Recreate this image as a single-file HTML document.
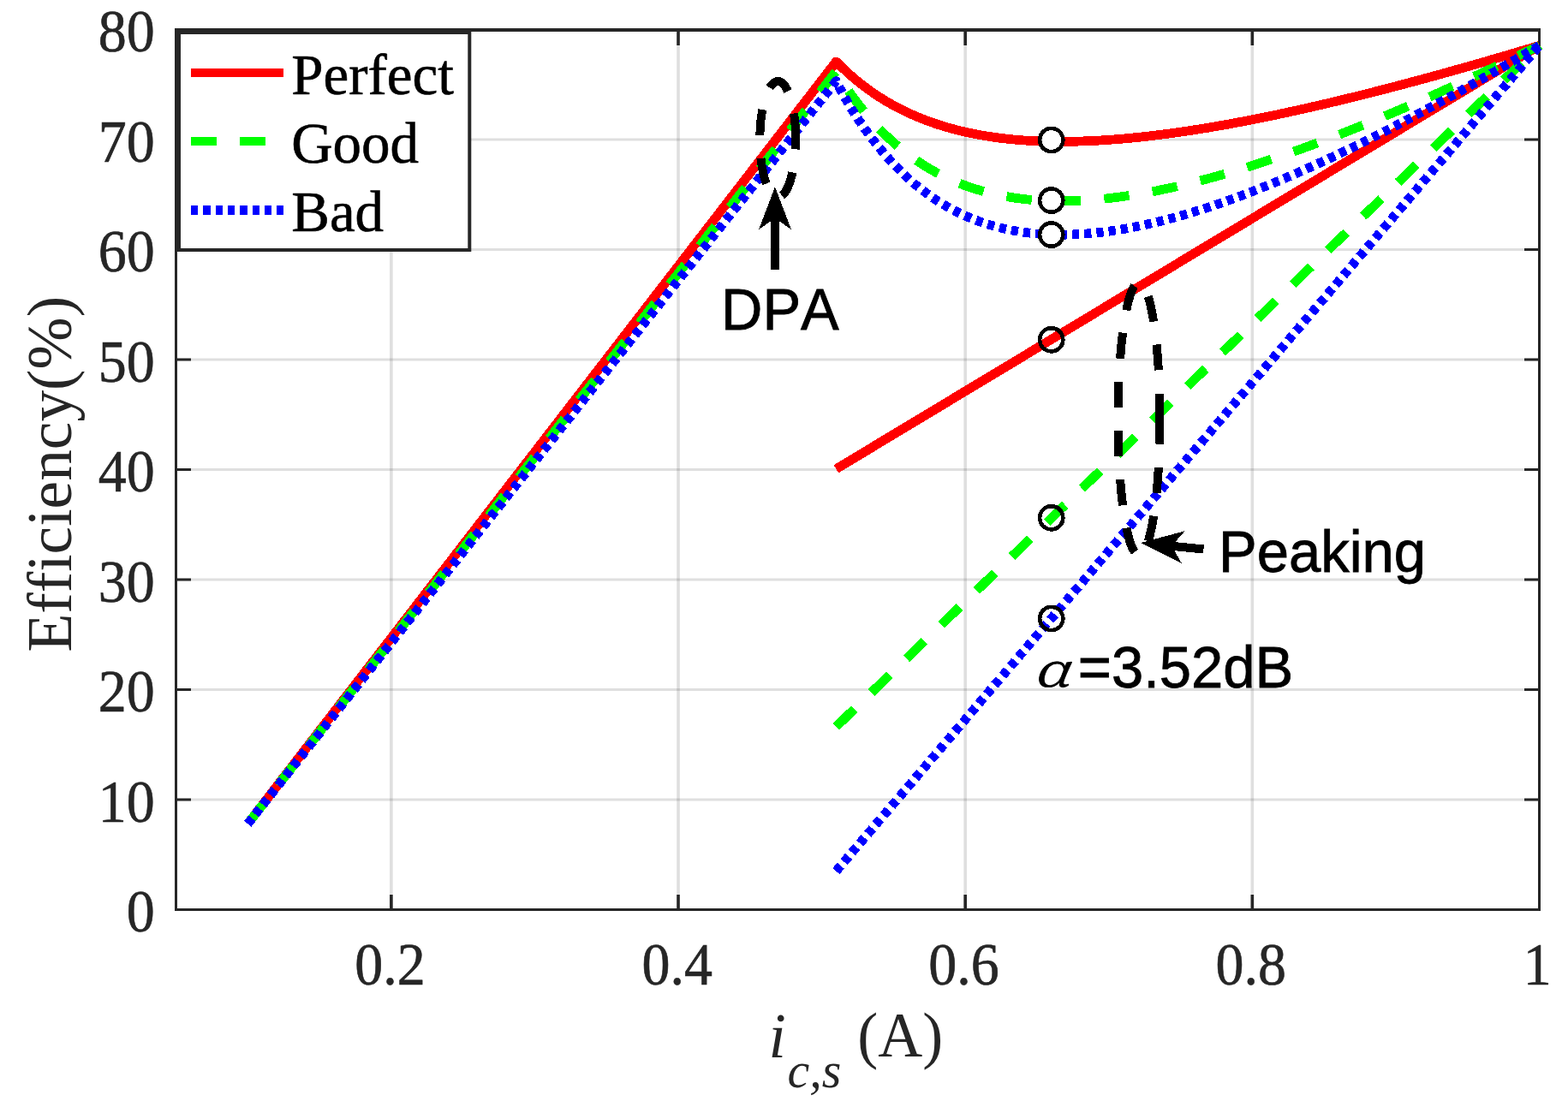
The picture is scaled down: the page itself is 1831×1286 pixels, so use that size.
<!DOCTYPE html><html><head><meta charset="utf-8"><style>html,body{margin:0;padding:0;background:#fff;}svg{display:block}text{font-kerning:none}</style></head><body>
<svg width="1831" height="1286" viewBox="0 0 1831 1286">
<rect width="1831" height="1286" fill="#fff"/>
<g stroke="#262626" stroke-opacity="0.15" fill="none">
<line x1="456.87" y1="34.50" x2="456.87" y2="1062.50" stroke-width="3.6"/>
<line x1="792.03" y1="34.50" x2="792.03" y2="1062.50" stroke-width="3.6"/>
<line x1="1127.18" y1="34.50" x2="1127.18" y2="1062.50" stroke-width="3.6"/>
<line x1="1462.34" y1="34.50" x2="1462.34" y2="1062.50" stroke-width="3.6"/>
<line x1="205.50" y1="934.00" x2="1797.50" y2="934.00" stroke-width="3"/>
<line x1="205.50" y1="805.50" x2="1797.50" y2="805.50" stroke-width="3"/>
<line x1="205.50" y1="677.00" x2="1797.50" y2="677.00" stroke-width="3"/>
<line x1="205.50" y1="548.50" x2="1797.50" y2="548.50" stroke-width="3"/>
<line x1="205.50" y1="420.00" x2="1797.50" y2="420.00" stroke-width="3"/>
<line x1="205.50" y1="291.50" x2="1797.50" y2="291.50" stroke-width="3"/>
<line x1="205.50" y1="163.00" x2="1797.50" y2="163.00" stroke-width="3"/>
</g>
<g stroke="#262626" fill="none">
<line x1="204" y1="35" x2="1799" y2="35" stroke-width="4"/>
<line x1="204" y1="1062.5" x2="1799" y2="1062.5" stroke-width="3"/>
<line x1="205.5" y1="33" x2="205.5" y2="1064" stroke-width="3"/>
<line x1="1797.5" y1="33" x2="1797.5" y2="1064" stroke-width="3"/>
<line x1="456.87" y1="1061" x2="456.87" y2="1045" stroke-width="3.6"/>
<line x1="456.87" y1="37" x2="456.87" y2="53" stroke-width="3.6"/>
<line x1="792.03" y1="1061" x2="792.03" y2="1045" stroke-width="3.6"/>
<line x1="792.03" y1="37" x2="792.03" y2="53" stroke-width="3.6"/>
<line x1="1127.18" y1="1061" x2="1127.18" y2="1045" stroke-width="3.6"/>
<line x1="1127.18" y1="37" x2="1127.18" y2="53" stroke-width="3.6"/>
<line x1="1462.34" y1="1061" x2="1462.34" y2="1045" stroke-width="3.6"/>
<line x1="1462.34" y1="37" x2="1462.34" y2="53" stroke-width="3.6"/>
<line x1="207" y1="934.00" x2="223" y2="934.00" stroke-width="3"/>
<line x1="1796" y1="934.00" x2="1780" y2="934.00" stroke-width="3"/>
<line x1="207" y1="805.50" x2="223" y2="805.50" stroke-width="3"/>
<line x1="1796" y1="805.50" x2="1780" y2="805.50" stroke-width="3"/>
<line x1="207" y1="677.00" x2="223" y2="677.00" stroke-width="3"/>
<line x1="1796" y1="677.00" x2="1780" y2="677.00" stroke-width="3"/>
<line x1="207" y1="548.50" x2="223" y2="548.50" stroke-width="3"/>
<line x1="1796" y1="548.50" x2="1780" y2="548.50" stroke-width="3"/>
<line x1="207" y1="420.00" x2="223" y2="420.00" stroke-width="3"/>
<line x1="1796" y1="420.00" x2="1780" y2="420.00" stroke-width="3"/>
<line x1="207" y1="291.50" x2="223" y2="291.50" stroke-width="3"/>
<line x1="1796" y1="291.50" x2="1780" y2="291.50" stroke-width="3"/>
<line x1="207" y1="163.00" x2="223" y2="163.00" stroke-width="3"/>
<line x1="1796" y1="163.00" x2="1780" y2="163.00" stroke-width="3"/>
</g>
<g font-family="Liberation Serif, serif" font-size="66" fill="#262626" stroke="#262626" stroke-width="0.6">
<text text-anchor="end" transform="translate(180.7,1088.00) scale(1,1.053)">0</text>
<text text-anchor="end" transform="translate(180.7,959.50) scale(1,1.053)">10</text>
<text text-anchor="end" transform="translate(180.7,831.00) scale(1,1.053)">20</text>
<text text-anchor="end" transform="translate(180.7,702.50) scale(1,1.053)">30</text>
<text text-anchor="end" transform="translate(180.7,574.00) scale(1,1.053)">40</text>
<text text-anchor="end" transform="translate(180.7,445.50) scale(1,1.053)">50</text>
<text text-anchor="end" transform="translate(180.7,317.00) scale(1,1.053)">60</text>
<text text-anchor="end" transform="translate(180.7,188.50) scale(1,1.053)">70</text>
<text text-anchor="end" transform="translate(180.7,60.00) scale(1,1.053)">80</text>
<text text-anchor="middle" transform="translate(455.57,1150.2) scale(1,1.053)">0.2</text>
<text text-anchor="middle" transform="translate(790.73,1150.2) scale(1,1.053)">0.4</text>
<text text-anchor="middle" transform="translate(1125.58,1150.2) scale(1,1.053)">0.6</text>
<text text-anchor="middle" transform="translate(1460.74,1150.2) scale(1,1.053)">0.8</text>
<text text-anchor="middle" transform="translate(1795.30,1150.2) scale(1,1.053)">1</text>
</g>
<g font-family="Liberation Serif, serif" fill="#262626">
<text font-size="73.4" transform="translate(82.6,761.5) rotate(-90)">Efficiency(%)</text>
<text font-size="73" font-style="italic" transform="translate(897.6,1234.9) scale(1,1.02)">i</text>
<text font-size="58" font-style="italic" transform="translate(919.6,1270.3) scale(1,1.02)">c,s</text>
<text font-size="72" transform="translate(1001.3,1234.2) scale(1,1.02)">(A)</text>
</g>
<g fill="none" stroke-width="10.8" stroke-linejoin="round" stroke-linecap="butt" shape-rendering="crispEdges">
<path d="M289.29,962.27 L976.36,71.92 L984.74,80.21 L993.12,87.87 L1001.50,94.95 L1009.88,101.50 L1018.26,107.56 L1026.64,113.17 L1035.02,118.35 L1043.39,123.13 L1051.77,127.55 L1060.15,131.63 L1068.53,135.38 L1076.91,138.84 L1085.29,142.01 L1093.67,144.91 L1102.05,147.57 L1110.43,149.99 L1118.81,152.19 L1127.18,154.19 L1135.56,155.98 L1143.94,157.59 L1152.32,159.02 L1160.70,160.29 L1169.08,161.40 L1177.46,162.35 L1185.84,163.16 L1194.22,163.84 L1202.59,164.39 L1210.97,164.81 L1219.35,165.12 L1227.73,165.31 L1236.11,165.40 L1244.49,165.38 L1252.87,165.26 L1261.25,165.06 L1269.63,164.76 L1278.01,164.37 L1286.38,163.91 L1294.76,163.36 L1303.14,162.74 L1311.52,162.05 L1319.90,161.28 L1328.28,160.45 L1336.66,159.56 L1345.04,158.60 L1353.42,157.58 L1361.79,156.50 L1370.17,155.37 L1378.55,154.19 L1386.93,152.95 L1395.31,151.66 L1403.69,150.33 L1412.07,148.95 L1420.45,147.52 L1428.83,146.05 L1437.21,144.54 L1445.58,142.99 L1453.96,141.40 L1462.34,139.77 L1470.72,138.10 L1479.10,136.40 L1487.48,134.67 L1495.86,132.90 L1504.24,131.09 L1512.62,129.26 L1520.99,127.40 L1529.37,125.50 L1537.75,123.58 L1546.13,121.63 L1554.51,119.65 L1562.89,117.65 L1571.27,115.62 L1579.65,113.57 L1588.03,111.49 L1596.41,109.39 L1604.78,107.26 L1613.16,105.12 L1621.54,102.95 L1629.92,100.76 L1638.30,98.55 L1646.68,96.32 L1655.06,94.07 L1663.44,91.80 L1671.82,89.51 L1680.19,87.21 L1688.57,84.88 L1696.95,82.54 L1705.33,80.19 L1713.71,77.81 L1722.09,75.42 L1730.47,73.02 L1738.85,70.60 L1747.23,68.16 L1755.61,65.71 L1763.98,63.25 L1772.36,60.77 L1780.74,58.28 L1789.12,55.78 L1797.50,53.26 L1797.50,53.26" stroke="#ff0000"/>
<path d="M976.36,547.79 L1797.50,53.26" stroke="#ff0000"/>
<path d="M289.29,962.27 L976.36,83.49 L984.74,96.91 L993.12,109.32 L1001.50,120.79 L1009.88,131.41 L1018.26,141.23 L1026.64,150.31 L1035.02,158.70 L1043.39,166.45 L1051.77,173.61 L1060.15,180.21 L1068.53,186.30 L1076.91,191.89 L1085.29,197.03 L1093.67,201.74 L1102.05,206.04 L1110.43,209.97 L1118.81,213.53 L1127.18,216.76 L1135.56,219.67 L1143.94,222.28 L1152.32,224.60 L1160.70,226.65 L1169.08,228.44 L1177.46,229.99 L1185.84,231.30 L1194.22,232.40 L1202.59,233.28 L1210.97,233.97 L1219.35,234.46 L1227.73,234.78 L1236.11,234.92 L1244.49,234.89 L1252.87,234.70 L1261.25,234.37 L1269.63,233.88 L1278.01,233.26 L1286.38,232.51 L1294.76,231.62 L1303.14,230.62 L1311.52,229.49 L1319.90,228.25 L1328.28,226.91 L1336.66,225.46 L1345.04,223.90 L1353.42,222.25 L1361.79,220.51 L1370.17,218.68 L1378.55,216.76 L1386.93,214.76 L1395.31,212.67 L1403.69,210.51 L1412.07,208.27 L1420.45,205.96 L1428.83,203.58 L1437.21,201.13 L1445.58,198.62 L1453.96,196.04 L1462.34,193.40 L1470.72,190.70 L1479.10,187.95 L1487.48,185.14 L1495.86,182.27 L1504.24,179.35 L1512.62,176.38 L1520.99,173.36 L1529.37,170.29 L1537.75,167.18 L1546.13,164.02 L1554.51,160.82 L1562.89,157.57 L1571.27,154.28 L1579.65,150.95 L1588.03,147.59 L1596.41,144.18 L1604.78,140.74 L1613.16,137.26 L1621.54,133.75 L1629.92,130.20 L1638.30,126.62 L1646.68,123.01 L1655.06,119.36 L1663.44,115.69 L1671.82,111.98 L1680.19,108.25 L1688.57,104.49 L1696.95,100.70 L1705.33,96.88 L1713.71,93.03 L1722.09,89.16 L1730.47,85.27 L1738.85,81.35 L1747.23,77.40 L1755.61,73.43 L1763.98,69.44 L1772.36,65.43 L1780.74,61.40 L1789.12,57.34 L1797.50,53.26 L1797.50,53.26" stroke="#00ff00" stroke-dasharray="29.56 27.56"/>
<path d="M976.36,848.80 L1797.50,53.26" stroke="#00ff00" stroke-dasharray="29.56 27.56"/>
<path d="M289.29,962.27 L976.36,94.69 L984.74,110.78 L993.12,125.19 L1001.50,138.37 L1009.88,150.57 L1018.26,161.92 L1026.64,172.50 L1035.02,182.36 L1043.39,191.53 L1051.77,200.05 L1060.15,207.94 L1068.53,215.25 L1076.91,221.98 L1085.29,228.19 L1093.67,233.88 L1102.05,239.09 L1110.43,243.85 L1118.81,248.18 L1127.18,252.10 L1135.56,255.63 L1143.94,258.80 L1152.32,261.62 L1160.70,264.11 L1169.08,266.29 L1177.46,268.17 L1185.84,269.77 L1194.22,271.10 L1202.59,272.18 L1210.97,273.01 L1219.35,273.61 L1227.73,273.99 L1236.11,274.16 L1244.49,274.13 L1252.87,273.90 L1261.25,273.49 L1269.63,272.91 L1278.01,272.15 L1286.38,271.23 L1294.76,270.16 L1303.14,268.93 L1311.52,267.57 L1319.90,266.06 L1328.28,264.42 L1336.66,262.66 L1345.04,260.77 L1353.42,258.77 L1361.79,256.65 L1370.17,254.42 L1378.55,252.08 L1386.93,249.65 L1395.31,247.11 L1403.69,244.48 L1412.07,241.76 L1420.45,238.95 L1428.83,236.06 L1437.21,233.08 L1445.58,230.02 L1453.96,226.89 L1462.34,223.68 L1470.72,220.40 L1479.10,217.05 L1487.48,213.63 L1495.86,210.14 L1504.24,206.59 L1512.62,202.98 L1520.99,199.31 L1529.37,195.58 L1537.75,191.79 L1546.13,187.95 L1554.51,184.05 L1562.89,180.11 L1571.27,176.11 L1579.65,172.06 L1588.03,167.97 L1596.41,163.83 L1604.78,159.64 L1613.16,155.41 L1621.54,151.14 L1629.92,146.83 L1638.30,142.47 L1646.68,138.08 L1655.06,133.65 L1663.44,129.18 L1671.82,124.67 L1680.19,120.13 L1688.57,115.55 L1696.95,110.94 L1705.33,106.30 L1713.71,101.62 L1722.09,96.92 L1730.47,92.18 L1738.85,87.41 L1747.23,82.62 L1755.61,77.79 L1763.98,72.94 L1772.36,68.06 L1780.74,63.15 L1789.12,58.22 L1797.50,53.26 L1797.50,53.26" stroke="#0000ff" stroke-dasharray="8.29 5.991"/>
<path d="M976.36,1017.52 L1797.50,53.26" stroke="#0000ff" stroke-dasharray="8.29 5.991"/>
</g>
<g stroke="#000" stroke-width="4.6" shape-rendering="crispEdges">
<circle cx="1227.73" cy="163.50" r="13.6" fill="#fff"/>
<circle cx="1227.73" cy="234.10" r="13.6" fill="#fff"/>
<circle cx="1227.73" cy="274.10" r="13.6" fill="#fff"/>
<circle cx="1227.73" cy="396.80" r="13.6" fill="none"/>
<circle cx="1227.73" cy="604.80" r="13.6" fill="none"/>
<circle cx="1227.73" cy="722.50" r="13.6" fill="none"/>
</g>
<g fill="none" stroke="#000" stroke-width="10" stroke-dasharray="30 27" shape-rendering="crispEdges">
<path d="M929.25,162.50 A21.00,67.50 0 0 0 887.25,162.50 A21.00,67.50 0 0 0 929.25,162.50"/>
<path d="M1354.50,489.30 A24.50,159.00 0 0 0 1305.50,489.30 A24.50,159.00 0 0 0 1354.50,489.30"/>
</g>
<g fill="#000" shape-rendering="crispEdges">
<path d="M905.00,218.20 L924.00,268.20 L910.00,258.20 L910.00,315.00 L900.00,315.00 L900.00,258.20 L886.00,268.20Z"/>
<path d="M1332.00,634.10 L1383.65,620.20 L1372.30,633.13 L1406.00,636.53 L1405.00,646.47 L1371.30,643.08 L1379.85,658.01Z"/>
</g>
<g font-family="Liberation Sans, Arial, sans-serif" fill="#000" stroke="#000" stroke-width="0.8">
<text font-size="67" transform="translate(842.0,384.9) scale(1,1.03)">DPA</text>
<text font-size="67" transform="translate(1423.0,668.3) scale(1,1.03)">Peaking</text>
<text font-size="67" transform="translate(1258.8,802.7) scale(1,1.03)">=3.52dB</text>
</g>
<text font-family="Noto Serif CJK SC, Liberation Serif, serif" font-style="italic" font-size="55" fill="#000" stroke="#000" stroke-width="0.7" transform="translate(1207.0,802.0) scale(1.24,1)">α</text>
<rect x="209" y="38.0" width="339.3" height="254" fill="#fff" stroke="#262626" stroke-width="4"/>
<g stroke-width="10" shape-rendering="crispEdges">
<line x1="223" y1="85" x2="331" y2="85" stroke="#ff0000"/>
<line x1="223" y1="165" x2="331" y2="165" stroke="#00ff00" stroke-dasharray="29.5 27.5"/>
<line x1="223" y1="245.5" x2="331" y2="245.5" stroke="#0000ff" stroke-width="11" stroke-dasharray="8.3 6"/>
</g>
<g font-family="Liberation Serif, serif" font-size="67" fill="#000" stroke="#000" stroke-width="0.6">
<text transform="translate(340.2,109.90) scale(1,1.02)">Perfect</text>
<text transform="translate(340.2,189.90) scale(1,1.02)">Good</text>
<text transform="translate(340.2,269.90) scale(1,1.02)">Bad</text>
</g>
</svg></body></html>
